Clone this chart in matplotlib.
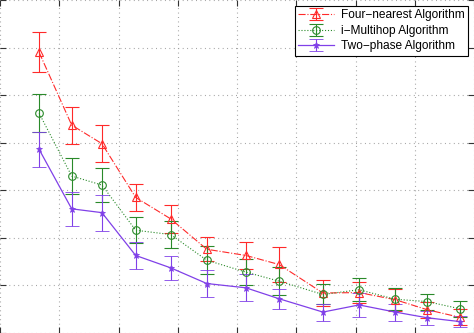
import matplotlib
matplotlib.use("Agg")
import matplotlib.pyplot as plt

plt.rcParams['font.family'] = ['Liberation Sans', 'DejaVu Sans']

# x positions (axis units, grid at integers)
x = [0.66, 1.21, 1.72, 2.29, 2.88, 3.49, 4.15, 4.71, 5.45, 6.06, 6.67, 7.21, 7.76]

four_nearest = [5.90, 4.37, 3.98, 2.85, 2.40, 1.76, 1.63, 1.44, 0.84, 0.85, 0.70, 0.49, 0.33]
four_nearest_err = [0.42, 0.39, 0.39, 0.29, 0.30, 0.25, 0.29, 0.37, 0.28, 0.22, 0.23, 0.17, 0.17]

i_multihop = [4.62, 3.30, 3.11, 2.16, 2.07, 1.53, 1.28, 1.09, 0.81, 0.91, 0.71, 0.66, 0.51]
i_multihop_err = [0.40, 0.38, 0.35, 0.27, 0.29, 0.29, 0.27, 0.29, 0.21, 0.24, 0.23, 0.17, 0.17]

two_phase = [3.86, 2.61, 2.53, 1.63, 1.37, 1.04, 0.95, 0.72, 0.44, 0.59, 0.44, 0.32, 0.24]
two_phase_err = [0.36, 0.36, 0.38, 0.28, 0.25, 0.28, 0.28, 0.21, 0.18, 0.26, 0.18, 0.15, 0.11]

labels = ['Four\u2212nearest Algorithm', 'i\u2212Multihop Algorithm', 'Two\u2212phase Algorithm']

fig = plt.figure(figsize=(4.74, 3.33), dpi=100)
ax = fig.add_axes([0, 0, 1, 1])

ax.errorbar(x, four_nearest, yerr=four_nearest_err, color='#ff2a2a', linestyle='-.',
            linewidth=0.8, marker='^', markersize=6, markerfacecolor='none',
            markeredgewidth=0.8, capsize=5, elinewidth=0.8, label=labels[0])
ax.errorbar(x, i_multihop, yerr=i_multihop_err, color='#2a8a2a', linestyle=':',
            linewidth=0.8, marker='o', markersize=5.5, markerfacecolor='none',
            markeredgewidth=0.8, capsize=5, elinewidth=0.8, label=labels[1])
ax.errorbar(x, two_phase, yerr=two_phase_err, color='#8040e8', linestyle='-',
            linewidth=0.9, marker='*', markersize=5, markeredgewidth=0.6,
            capsize=5, elinewidth=0.8, label=labels[2])

ax.set_xlim(0, 8)
ax.set_ylim(0, 7)
ax.set_xticks(range(0, 9))
ax.set_yticks(range(0, 8))
ax.set_xticklabels([])
ax.set_yticklabels([])
ax.tick_params(direction='in', length=4, width=0.8, top=True, right=True, color='#333333')
ax.grid(True, linestyle=(0, (0.8, 3.2)), color='#999999', linewidth=0.8)
for s in ax.spines.values():
    s.set_visible(False)

leg = ax.legend(loc='upper left', bbox_to_anchor=(0.622, 0.983), fontsize=8.6,
                fancybox=False, edgecolor='black', framealpha=1, handlelength=3.0,
                borderpad=0.3, labelspacing=0.3, handletextpad=0.55, borderaxespad=0)
leg.get_frame().set_linewidth(0.8)

fig.savefig('out.png', dpi=100)
